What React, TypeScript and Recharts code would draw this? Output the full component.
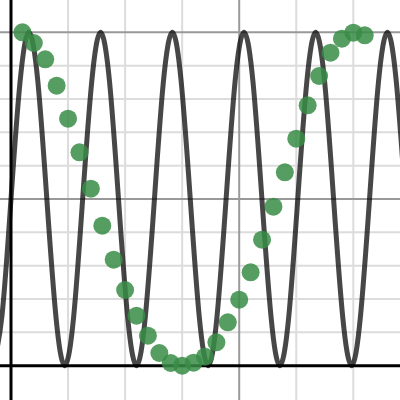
import { ComposedChart, Line, Scatter, XAxis, YAxis, ReferenceLine } from 'recharts';

// day of month and illuminated fraction (green dots)
const days = [
  1, 2, 3, 4, 5, 6, 7, 8, 9, 10, 11, 12, 13, 14, 15, 16,
  17, 18, 19, 20, 21, 22, 23, 24, 25, 26, 27, 28, 29, 30, 31,
];
const illumination = [
  1.0, 0.968, 0.919, 0.84, 0.741, 0.64, 0.531, 0.42, 0.318, 0.227, 0.15,
  0.09, 0.038, 0.008, 0.0, 0.009, 0.027, 0.07, 0.13, 0.198, 0.28, 0.378,
  0.477, 0.58, 0.681, 0.781, 0.869, 0.939, 0.981, 0.999, 0.991,
];

// fast oscillating curve, read at its peaks, troughs and in between
const curveX = [
  -1.57, -0.79, 0, 0.79, 1.57, 2.36, 3.14, 3.93, 4.71, 5.5, 6.28, 7.07,
  7.85, 8.64, 9.42, 10.21, 11.0, 11.78, 12.57, 13.35, 14.14, 14.92, 15.71,
  16.49, 17.28, 18.06, 18.85, 19.63, 20.42, 21.21, 21.99, 22.78, 23.56,
  24.35, 25.13, 25.92, 26.7, 27.49, 28.27, 29.06, 29.85, 30.63, 31.42,
  32.2, 32.99, 33.77, 34.56,
];
const curveY = [
  0, 0.15, 0.5, 0.85, 1, 0.85, 0.5, 0.15, 0, 0.15, 0.5, 0.85,
  1, 0.85, 0.5, 0.15, 0, 0.15, 0.5, 0.85, 1, 0.85, 0.5,
  0.15, 0, 0.15, 0.5, 0.85, 1, 0.85, 0.5, 0.15, 0,
  0.15, 0.5, 0.85, 1, 0.85, 0.5, 0.15, 0, 0.15, 0.5,
  0.85, 1, 0.85, 0.5,
];

const minorX = [5, 10, 15, 25, 30];
const majorX = [20];
const minorY = [0.1, 0.2, 0.3, 0.4, 0.6, 0.7, 0.8, 0.9];
const majorY = [0.5, 1];

const dots = days.map((d, i) => ({ x: d, y: illumination[i] }));
const curve = curveX.map((x, i) => ({ x, y: curveY[i] }));

const Dot = (props: any) => (
  <circle cx={props.cx} cy={props.cy} r={9} fill="#388c46" fillOpacity={0.85} />
);

export default function App() {
  return (
    <div style={{ position: 'absolute', left: 0, top: 0, background: '#fff' }}>
      <ComposedChart
        width={400}
        height={400}
        margin={{ top: 0, right: 0, left: 0, bottom: 0 }}
      >
        <XAxis
          type="number"
          dataKey="x"
          domain={[-0.964, 34.09]}
          allowDataOverflow
          hide
        />
        <YAxis
          type="number"
          dataKey="y"
          domain={[-0.103, 1.097]}
          allowDataOverflow
          hide
        />
        {minorX.map((v) => (
          <ReferenceLine key={`mx${v}`} x={v} stroke="#dcdcdc" strokeWidth={2} />
        ))}
        {minorY.map((v) => (
          <ReferenceLine key={`my${v}`} y={v} stroke="#dcdcdc" strokeWidth={2} />
        ))}
        {majorX.map((v) => (
          <ReferenceLine key={`Mx${v}`} x={v} stroke="#999999" strokeWidth={2} />
        ))}
        {majorY.map((v) => (
          <ReferenceLine key={`My${v}`} y={v} stroke="#999999" strokeWidth={2} />
        ))}
        <ReferenceLine x={0} stroke="#000" strokeWidth={3} />
        <ReferenceLine y={0} stroke="#000" strokeWidth={3} />
        <Line
          data={curve}
          dataKey="y"
          type="natural"
          stroke="#000"
          strokeOpacity={0.72}
          strokeWidth={5}
          dot={false}
          activeDot={false}
          isAnimationActive={false}
        />
        <Scatter
          data={dots}
          dataKey="y"
          shape={Dot}
          isAnimationActive={false}
        />
      </ComposedChart>
    </div>
  );
}
